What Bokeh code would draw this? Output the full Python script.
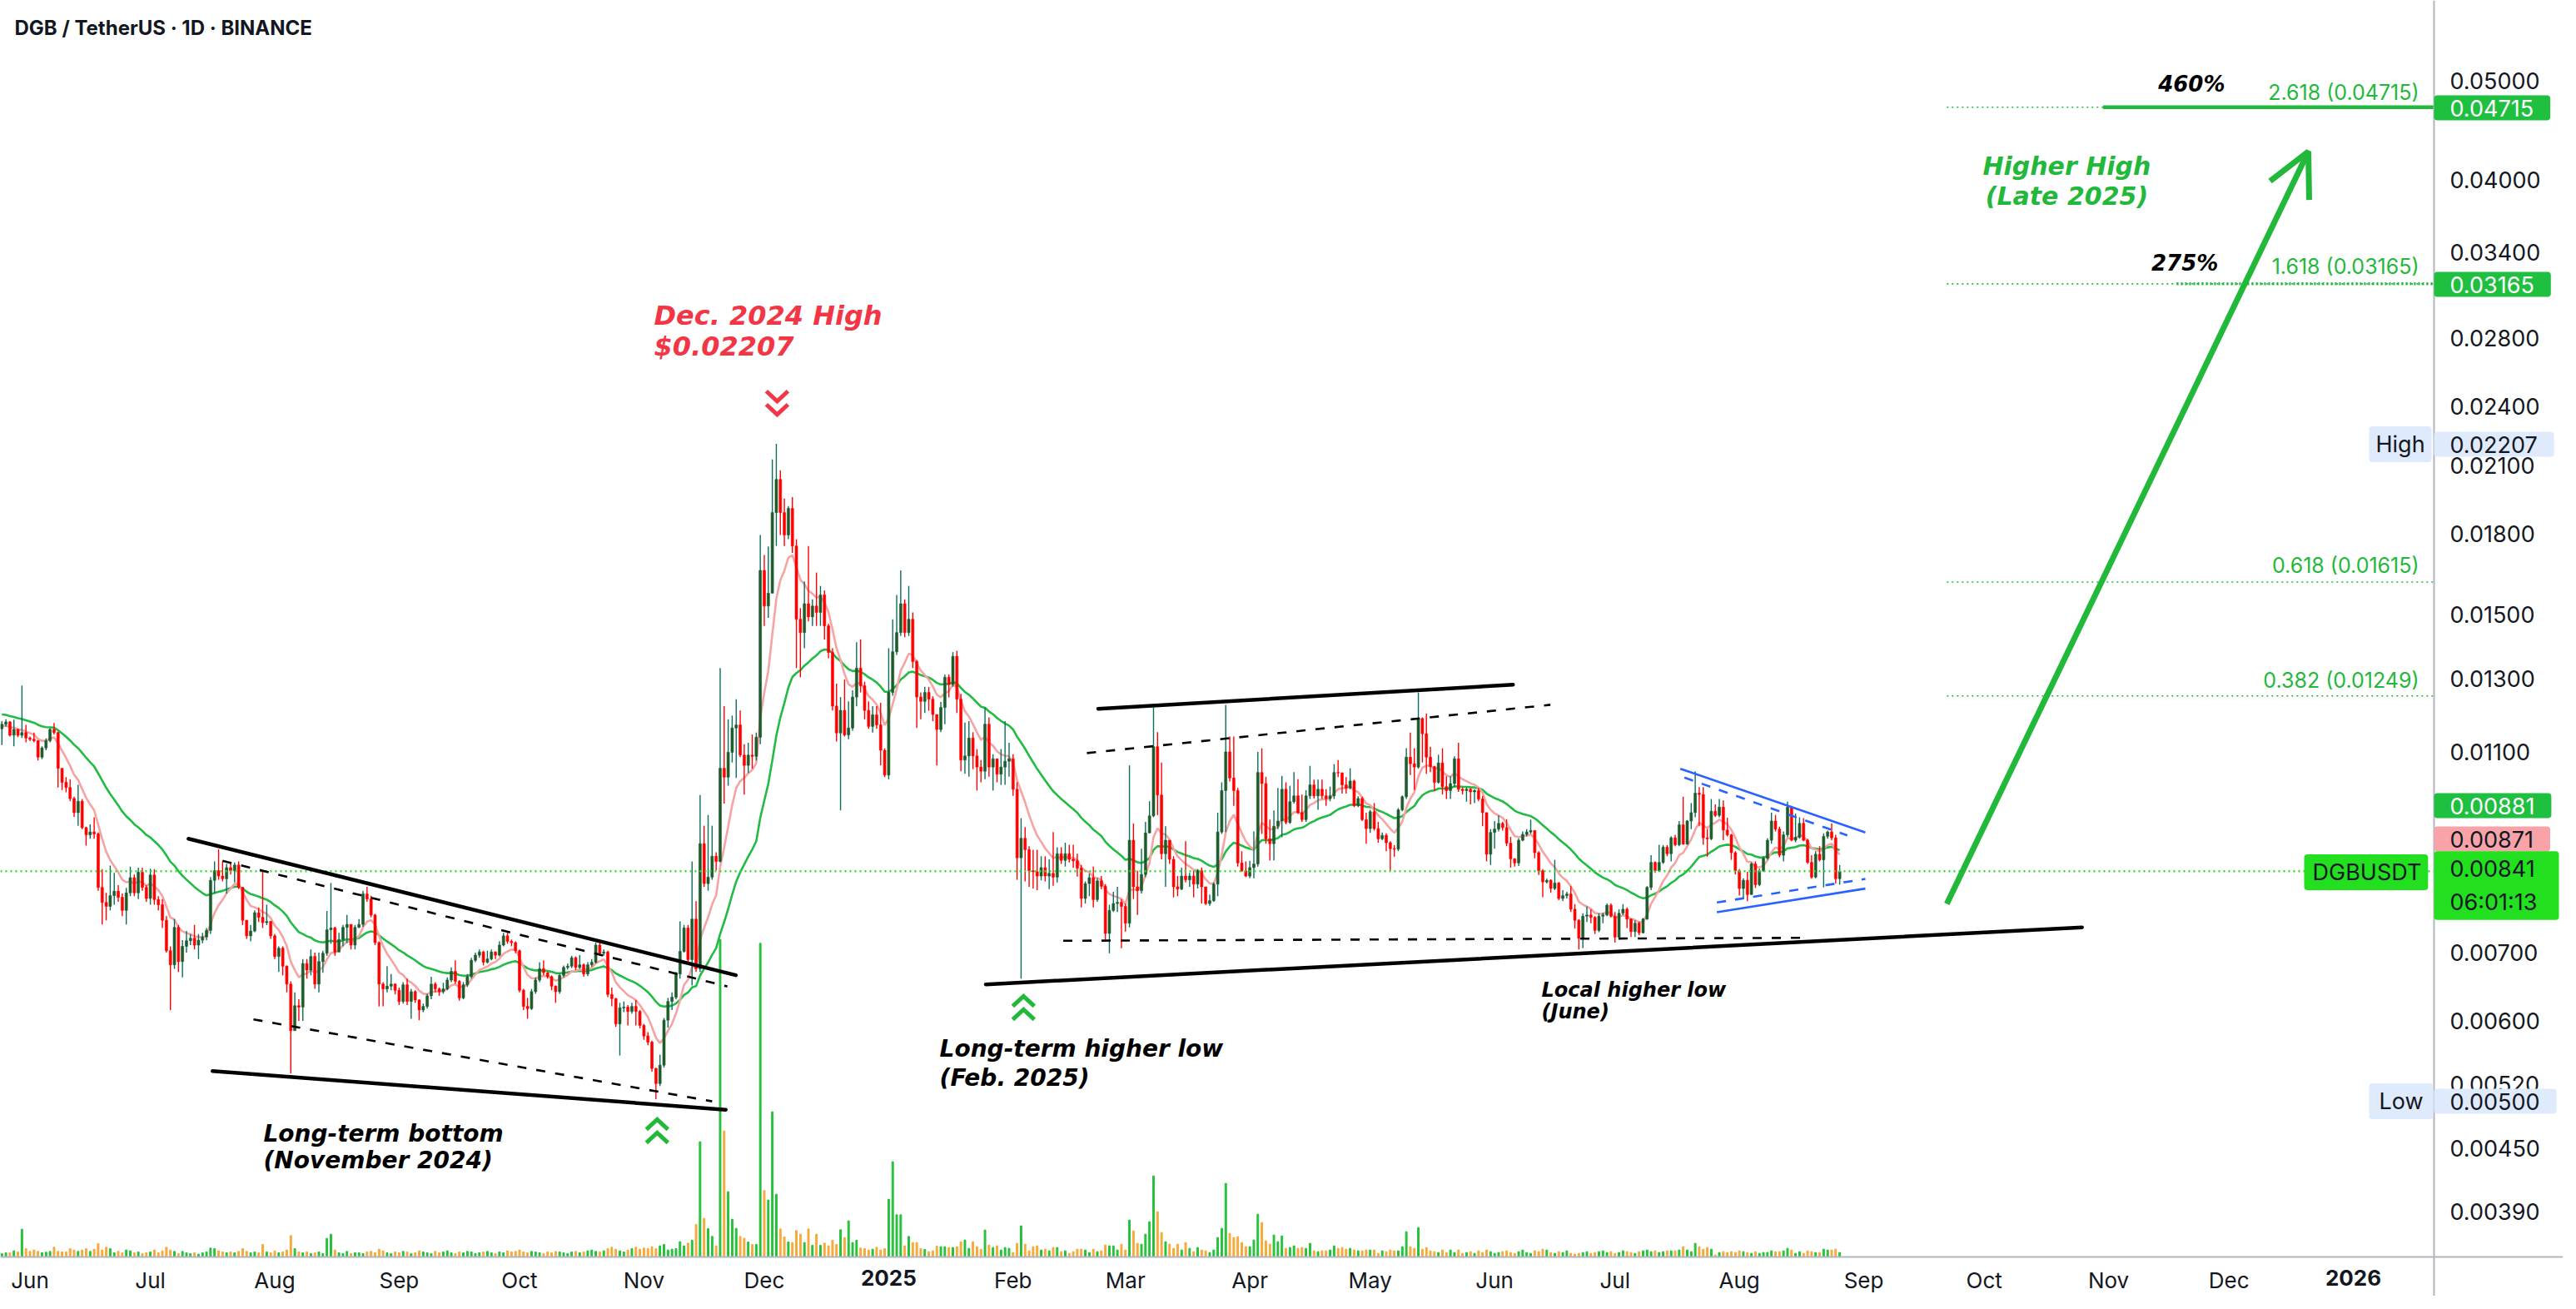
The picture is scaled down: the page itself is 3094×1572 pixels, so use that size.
import math
from datetime import date
from bokeh.plotting import figure
from bokeh.models import (Range1d, LinearScale, FixedTicker, PrintfTickFormatter,
                          Label, Arrow, OpenHead, Span)
from bokeh.embed import file_html
from bokeh.resources import INLINE

# ---------------------------------------------------------------- data
ORIGIN = date(2024, 6, 1)          # x axis = days since this date
FIRST_DATE = date(2024, 5, 25)     # first daily candle
UNIT = 1e-5                        # prices below are in 1e-5 USDT
first_open = 1160

close_e5 = [
 1172,1178,1143,1158,1143,1150,1136,1133,1129,1088,
 1111,1129,1158,1150,1061,1028,1016,991,960,985,
 928,913,919,915,811,784,777,796,804,793,
 770,801,829,801,839,811,791,834,789,780,
 753,703,681,741,686,710,719,723,712,720,
 725,736,824,842,832,827,848,842,853,811,
 753,727,735,766,758,749,751,727,694,707,
 679,652,587,621,619,683,673,694,652,686,
 699,737,740,701,721,741,746,712,741,746,
 799,790,762,716,652,645,649,652,643,627,
 651,627,641,629,615,620,635,652,645,641,
 645,658,671,656,632,651,663,688,696,701,
 685,690,701,696,712,727,718,716,703,643,
 620,617,641,658,675,669,663,649,641,665,
 677,679,692,677,681,667,681,685,712,699,
 701,637,631,596,618,619,613,620,613,594,
 580,572,539,521,543,601,627,633,667,702,
 740,689,755,675,895,818,830,870,860,1061,
 1040,1100,1162,1170,1093,1068,1093,1090,1138,1658,
 1530,1575,1889,2036,1889,1796,1907,1752,1485,1441,
 1538,1493,1530,1508,1569,1463,1378,1221,1149,1209,
 1144,1162,1246,1330,1278,1209,1166,1197,1170,1105,
 1045,1259,1380,1441,1538,1441,1485,1350,1246,1234,
 1259,1240,1198,1158,1217,1303,1282,1366,1240,1081,
 1091,1136,1091,1064,1054,1172,1064,1084,1047,1064,
 1078,1084,1012,867,906,883,842,840,832,848,
 832,837,830,875,862,875,864,861,847,791,
 818,829,789,823,813,731,770,782,784,777,
 748,902,812,805,835,917,953,1114,999,875,
 902,864,812,808,832,825,832,817,842,812,
 782,787,817,919,1009,1101,1038,1009,857,842,
 832,848,855,1051,1025,905,895,931,942,1012,
 939,984,997,960,945,997,1022,997,1012,997,
 991,997,1051,1050,1022,1015,1031,975,991,945,
 926,962,926,905,912,897,885,884,966,995,
 1088,1072,1064,1187,1147,1088,1065,1028,1074,1018,
 1009,1025,1084,1012,1009,1012,1006,1009,990,960,
 874,918,925,937,928,896,865,857,902,914,
 919,922,877,842,821,824,809,819,791,796,
 799,772,753,723,760,762,758,736,760,762,
 779,760,725,765,772,755,734,748,732,755,
 811,858,842,858,888,875,907,893,934,894,
 942,960,1003,1000,907,905,963,954,972,923,
 913,877,842,809,824,798,855,816,842,866,
 902,942,925,872,913,972,902,908,937,902,
 858,830,874,863,910,919,907,827,841]

high_e5 = [
 1180,1185,1180,1184,1160,1279,1170,1140,1150,1130,
 1115,1135,1162,1175,1152,1061,1040,1035,995,1022,
 990,930,935,950,918,845,801,852,838,815,
 800,810,850,835,848,848,815,846,845,795,
 790,760,710,755,745,720,735,730,745,730,
 732,740,830,860,884,860,855,858,858,860,
 812,750,745,770,775,842,780,752,730,710,
 710,680,656,640,630,690,690,705,700,700,
 703,769,819,742,732,745,762,746,745,755,
 805,812,796,764,718,655,679,667,653,647,
 655,660,645,643,630,624,638,663,655,647,
 654,662,677,688,658,655,667,692,700,705,
 703,703,705,702,718,732,732,721,718,705,
 645,632,645,662,685,688,670,665,650,668,
 680,683,695,694,696,683,685,690,716,716,
 705,703,647,632,625,627,622,625,629,615,
 596,585,574,540,556,604,632,640,670,751,
 745,745,860,786,999,932,955,932,878,1330,
 1221,1185,1195,1240,1209,1120,1124,1145,1150,1796,
 1717,1750,2130,2206,2078,1950,1917,1956,1779,1523,
 1617,1752,1553,1650,1601,1585,1470,1391,1284,1246,
 1296,1234,1265,1410,1419,1290,1234,1221,1221,1230,
 1110,1391,1485,1569,1658,1553,1601,1508,1355,1259,
 1275,1275,1248,1198,1232,1311,1311,1379,1383,1255,
 1176,1180,1151,1108,1081,1217,1190,1095,1084,1108,
 1180,1124,1095,1028,948,929,890,883,883,870,
 870,864,919,888,888,897,893,893,875,853,
 822,837,850,828,832,817,780,803,812,790,
 782,1068,937,842,885,940,985,1217,1151,1075,
 931,900,870,832,848,900,838,842,845,848,
 812,798,820,960,1028,1224,1140,1140,1015,880,
 860,861,920,1101,1110,1041,945,965,1015,1043,
 1028,1020,1052,1035,1000,1010,1067,1034,1034,1034,
 1012,1018,1071,1081,1051,1040,1061,1034,996,995,
 960,966,981,940,918,916,900,892,970,998,
 1110,1150,1110,1259,1190,1200,1114,1067,1094,1110,
 1042,1042,1090,1124,1016,1016,1015,1012,1015,997,
 960,925,942,954,940,946,909,866,906,920,
 925,945,922,880,845,827,826,863,821,806,
 803,813,781,755,765,777,772,760,765,766,
 782,782,767,772,781,775,756,753,751,757,
 813,872,860,893,892,892,910,913,942,995,
 944,981,1054,1017,1017,925,990,978,990,987,
 949,915,880,845,828,840,858,860,846,870,
 906,960,955,930,920,984,975,958,950,948,
 905,872,880,890,916,922,937,913,853]

low_e5 = [
 1118,1165,1140,1115,1138,1136,1125,1128,1125,1080,
 1083,1105,1125,1145,1016,1010,1005,985,951,932,
 925,891,905,905,805,746,753,770,780,785,
 760,746,795,795,790,805,785,780,780,770,
 740,700,615,675,670,662,700,712,705,690,
 715,720,730,800,825,822,800,835,820,808,
 745,722,718,733,750,740,745,722,690,670,
 665,640,533,590,600,600,660,665,645,640,
 669,695,714,695,712,710,715,705,705,740,
 742,785,758,712,620,620,640,643,637,622,
 624,622,603,625,601,612,617,630,640,635,
 638,643,655,652,628,630,648,660,685,692,
 680,683,688,690,694,710,714,710,699,640,
 615,603,615,638,655,665,660,643,625,638,
 662,674,676,673,675,663,664,678,683,695,
 695,633,620,592,555,612,594,610,594,590,
 575,568,535,503,518,540,591,615,630,660,
 700,683,650,670,670,812,805,825,843,858,
 980,1020,1075,1038,1088,1000,1050,1060,1080,1120,
 1463,1490,1580,1752,1796,1752,1779,1725,1330,1303,
 1391,1478,1463,1463,1463,1419,1360,1209,1127,965,
 1140,1133,1155,1220,1259,1185,1160,1150,1160,1068,
 1040,1035,1250,1370,1430,1426,1430,1330,1162,1185,
 1202,1208,1180,1068,1151,1172,1245,1275,1202,1054,
 1048,1041,1059,1009,1028,1035,1041,1009,1028,1022,
 1022,1041,997,825,660,822,812,809,806,824,
 822,808,814,820,855,850,858,848,831,775,
 782,795,775,785,808,721,699,767,767,707,
 734,741,790,762,800,830,917,950,955,864,
 812,855,793,795,806,820,812,793,809,782,
 779,778,785,795,915,919,1030,975,850,840,
 830,828,828,850,915,895,862,862,925,908,
 935,936,980,957,940,940,990,991,966,990,
 975,985,990,1040,1002,1002,1012,972,972,942,
 895,917,922,897,902,880,842,869,880,963,
 990,1045,1010,1060,1075,1048,1052,1009,1025,1000,
 990,990,1017,1006,1000,984,978,981,985,931,
 860,853,885,920,922,890,848,850,851,900,
 910,915,866,834,793,818,801,806,788,786,
 791,767,739,705,707,750,748,730,733,748,
 760,758,716,721,762,740,725,725,728,731,
 754,806,838,840,855,870,860,890,890,893,
 893,925,950,931,893,869,902,951,950,902,
 910,863,835,796,791,786,800,810,813,840,
 863,895,920,868,860,908,900,898,905,900,
 855,827,828,860,811,905,902,818,816]

volume = [
 12,15,15,22,18,100,30,20,25,20,
 15,17,20,35,20,18,18,30,25,20,
 25,30,20,28,48,25,35,30,15,20,
 15,25,22,15,18,12,15,18,25,15,
 22,35,25,20,12,20,15,12,15,10,
 15,18,32,30,22,18,15,18,15,20,
 30,20,15,18,15,45,18,15,22,15,
 18,25,77,30,18,15,18,12,15,18,
 12,67,82,25,15,12,20,12,15,15,
 12,18,20,15,28,22,15,12,18,15,
 20,18,12,15,22,18,15,12,20,15,
 18,22,15,12,18,15,20,18,12,15,
 18,20,15,12,18,15,22,18,20,25,
 18,15,20,18,15,12,18,15,20,18,
 15,12,18,20,15,18,22,25,20,18,
 22,30,35,28,22,18,25,30,35,28,
 32,30,37,30,40,45,25,28,30,55,
 40,50,60,117,415,139,102,74,40,1143,
 454,235,136,103,74,67,54,45,45,1130,
 239,205,523,226,101,72,54,52,95,82,
 52,101,42,82,42,50,40,60,45,98,
 70,130,52,60,32,30,25,28,35,25,
 30,208,343,152,152,40,74,52,52,30,
 27,19,22,39,37,37,34,34,37,55,
 61,31,55,37,28,97,43,34,40,25,
 34,31,16,49,112,46,22,37,40,25,
 28,22,34,34,19,22,13,19,28,28,
 25,16,28,19,22,43,40,40,25,46,
 25,133,94,49,46,82,127,292,163,88,
 55,46,31,46,25,52,31,19,34,25,
 22,16,25,70,103,265,85,70,73,52,
 37,37,61,154,124,58,46,79,55,76,
 31,34,40,31,34,31,49,22,19,22,
 22,25,40,31,34,28,31,25,22,22,
 25,25,25,13,22,19,25,22,22,37,
 91,37,31,106,28,34,22,19,16,25,
 16,25,16,25,13,16,19,13,22,16,
 25,19,13,16,19,22,16,13,19,25,
 16,13,22,19,28,25,16,13,19,16,
 22,13,10,13,16,19,13,16,19,22,
 16,19,13,16,22,19,16,13,19,22,
 25,19,22,16,19,22,22,22,25,37,
 25,19,49,37,28,34,28,7,16,19,
 16,19,16,22,19,16,13,19,13,16,
 16,22,19,19,22,31,25,13,19,13,
 22,19,16,16,28,25,25,28,16]

ema_fast_len, ema_slow_len = 9, 30
ema_fast_seed, ema_slow_seed = 1165, 1200
last_price = 0.00841

month_ticks = [(2024, 6, "Jun"), (2024, 7, "Jul"), (2024, 8, "Aug"), (2024, 9, "Sep"),
               (2024, 10, "Oct"), (2024, 11, "Nov"), (2024, 12, "Dec"), (2025, 1, "2025"),
               (2025, 2, "Feb"), (2025, 3, "Mar"), (2025, 4, "Apr"), (2025, 5, "May"),
               (2025, 6, "Jun"), (2025, 7, "Jul"), (2025, 8, "Aug"), (2025, 9, "Sep"),
               (2025, 10, "Oct"), (2025, 11, "Nov"), (2025, 12, "Dec"), (2026, 1, "2026")]
price_ticks = [0.05, 0.04, 0.034, 0.028, 0.024, 0.021, 0.018, 0.015, 0.013, 0.011,
               0.007, 0.006, 0.0052, 0.0045, 0.0039]

# drawings (x = days since ORIGIN, y = price)
trend_solid = [(39.5, 0.009051, 175.9, 0.006653), (45.5, 0.005358, 173.4, 0.004911),
               (238.2, 0.006516, 511.4, 0.007411), (266.2, 0.012135, 369.6, 0.012813)]
trend_dashed = [(48.0, 0.008611, 173.8, 0.006486), (55.7, 0.006021, 170.0, 0.005005),
                (263.4, 0.01098, 378.9, 0.012244), (257.5, 0.007190, 442.2, 0.007238)]
blue_solid = [(411.3, 0.010600, 457.4, 0.009181), (420.4, 0.007669, 457.4, 0.008088)]
blue_dashed = [(412.3, 0.010391, 452.9, 0.009119), (420.4, 0.007838, 457.4, 0.008267)]
arrow_line = (477.7, 0.007815, 567.8, 0.04266)
fib_start = 477.7
fib_levels = [("2.618", 0.04715), ("1.618", 0.03165), ("0.618", 0.01615), ("0.382", 0.01249)]
chevrons = [(186.2, 0.0242, "down", "#f23645"), (156.3, 0.004679, "up", "#22b83a"),
            (247.6, 0.00618, "up", "#22b83a")]

# ---------------------------------------------------------------- derived
n = len(close_e5)
x0 = (FIRST_DATE - ORIGIN).days
xs = [x0 + i for i in range(n)]
close = [c * UNIT for c in close_e5]
opens = [first_open * UNIT] + close[:-1]
high = [max(h * UNIT, o, c) for h, o, c in zip(high_e5, opens, close)]
low = [min(l * UNIT, o, c) for l, o, c in zip(low_e5, opens, close)]
up = [c >= o for o, c in zip(opens, close)]
vol = (volume + [0] * n)[:n]


def ema(vals, length, seed):
    a = 2.0 / (length + 1)
    e, out = seed, []
    for v in vals:
        e = a * v + (1 - a) * e
        out.append(e)
    return out


ema_fast = ema(close, ema_fast_len, ema_fast_seed * UNIT)
ema_slow = ema(close, ema_slow_len, ema_slow_seed * UNIT)

# ---------------------------------------------------------------- figure
# The plot frame covers the whole canvas; price-scale and time-scale labels are
# Bokeh's own axes pulled inwards (negative standoff) so tags can sit over them.
W, H = 3078, 1556
PANE_W, PANE_H = 2923, 1509          # price pane (left of / above the scales)
X_START, AXIS_DAY = -7.366, 599.12
Y_TOP, AXIS_PRICE = 0.05999, 0.003523
PX_DAY = PANE_W / (AXIS_DAY - X_START)
PX_LN = PANE_H / math.log(Y_TOP / AXIS_PRICE)
XR = (X_START, X_START + W / PX_DAY)
YR = (Y_TOP * math.exp(-H / PX_LN), Y_TOP)

p = figure(frame_width=W, frame_height=H, x_range=Range1d(*XR), y_range=Range1d(*YR),
           y_axis_type="log", y_axis_location="right",
           output_backend="svg", toolbar_location=None,
           min_border_left=0, min_border_right=0, min_border_top=0,
           min_border_bottom=0)
p.outline_line_color = None
p.grid.visible = False
p.background_fill_color = "white"
p.border_fill_color = "white"

TXT = "#131722"
AX = "#b2b5be"

yax = p.yaxis[0]
yax.ticker = FixedTicker(ticks=price_ticks)
yax.formatter = PrintfTickFormatter(format="%.5f")
yax.axis_line_color = None
yax.major_tick_line_color = None
yax.minor_tick_line_color = None
yax.major_tick_out = 0
yax.major_tick_in = 0
yax.major_label_standoff = 2942 - W
yax.major_label_text_font = "Inter"
yax.major_label_text_font_size = "27px"
yax.major_label_text_color = TXT

tick_days = [(date(y, m, 1) - ORIGIN).days for y, m, _ in month_ticks]
xax = p.xaxis[0]
xax.ticker = FixedTicker(ticks=tick_days)
xax.major_label_overrides = {d: ("" if lab.isdigit() else lab)
                             for d, (_, _, lab) in zip(tick_days, month_ticks)}
xax.axis_line_color = None
xax.major_tick_line_color = None
xax.minor_tick_line_color = None
xax.major_tick_out = 0
xax.major_tick_in = 0
xax.major_label_standoff = 1521 - H
xax.major_label_text_font = "Inter"
xax.major_label_text_font_size = "26px"
xax.major_label_text_color = TXT

# scale borders
p.add_layout(Span(location=AXIS_DAY, dimension="height", line_color=AX, line_width=2))
p.add_layout(Span(location=AXIS_PRICE, dimension="width", line_color=AX, line_width=2))

# volume (baseline on the time-scale line)
VOL_PER_PX = 3
vol_start = -(H - PANE_H) * VOL_PER_PX
p.extra_y_ranges = {"vol": Range1d(vol_start, vol_start + H * VOL_PER_PX)}
p.extra_y_scales = {"vol": LinearScale()}
p.vbar(x=xs, top=vol, bottom=0, width=0.4, y_range_name="vol",
       color=["#26c03c" if u else "#f5a93a" for u in up])

# moving averages
p.line(xs, ema_slow, line_color="#22bb44", line_width=2.6)
p.line(xs, ema_fast, line_color="#f6a3a3", line_width=2.6)

# candles
p.segment(x0=xs, y0=low, x1=xs, y1=high, line_width=1.4,
          line_color=["#0b6d5c" if u else "#ff0000" for u in up])
p.vbar(x=xs, top=[max(o, c) for o, c in zip(opens, close)],
       bottom=[min(o, c) for o, c in zip(opens, close)], width=0.62,
       fill_color=["#1e5b2b" if u else "#ff0000" for u in up],
       line_color=["#1e5b2b" if u else "#ff0000" for u in up], line_width=0.6)

# current price line
p.line([X_START, AXIS_DAY], [last_price, last_price], line_color="#2ee02e",
       line_dash="2 4", line_width=2.5)

# trend lines
for (a, b, c, d) in trend_solid:
    p.line([a, c], [b, d], line_color="black", line_width=4.5, line_cap="round")
for (a, b, c, d) in trend_dashed:
    p.line([a, c], [b, d], line_color="black", line_width=2.6, line_dash="11 12")
for (a, b, c, d) in blue_solid:
    p.line([a, c], [b, d], line_color="#2962ff", line_width=2.6)
for (a, b, c, d) in blue_dashed:
    p.line([a, c], [b, d], line_color="#2962ff", line_width=2.6, line_dash="11 11")

# fib levels
GREEN = "#22b83a"
for lab, lv in fib_levels:
    p.line([fib_start, AXIS_DAY], [lv, lv], line_color=GREEN, line_width=1.6, line_dash="2 4")
p.line([516.6, AXIS_DAY], [0.04715, 0.04715], line_color=GREEN, line_width=4.5)
p.line([535.0, AXIS_DAY], [0.03165, 0.03165], line_color=GREEN, line_width=3.5, line_dash="2 3")

# big arrow
p.add_layout(Arrow(end=OpenHead(size=52, line_color=GREEN, line_width=7),
                   x_start=arrow_line[0], y_start=arrow_line[1],
                   x_end=arrow_line[2], y_end=arrow_line[3],
                   line_color=GREEN, line_width=7))

# chevrons
for (xc, pc, direction, col) in chevrons:
    sgn = 1 if direction == "up" else -1
    for off in (-8, 8):
        yc = off * sgn
        pts_px = [(-13, yc - 6 * sgn), (0, yc + 6 * sgn), (13, yc - 6 * sgn)]
        p.line([xc + dx / PX_DAY for dx, _ in pts_px],
               [pc * math.exp(dy / PX_LN) for _, dy in pts_px],
               line_color=col, line_width=5, line_join="miter")

# text annotations
ANN = "DejaVu Sans"
TEXT_DROP = math.exp(-4 / PX_LN)     # text centre sits a few px below anchor


def note(x, y, text, size, color="black", align="left", style="bold italic",
         font=ANN):
    p.add_layout(Label(x=x, y=y * TEXT_DROP, text=text, text_font=font,
                       text_font_size=size, text_font_style=style, text_color=color,
                       text_align=align, text_baseline="middle"))


note(155.5, 0.02966, "Dec. 2024 High", "32px", "#f23645")
note(155.5, 0.02767, "$0.02207", "32px", "#f23645")
note(58.2, 0.004688, "Long-term bottom", "28px")
note(58.2, 0.004414, "(November 2024)", "28px")
note(226.7, 0.005676, "Long-term higher low", "28px")
note(226.7, 0.005317, "(Feb. 2025)", "28px")
note(376.7, 0.006486, "Local higher low", "24px")
note(376.7, 0.006167, "(June)", "24px")
note(507.6, 0.04159, "Higher High", "30px", GREEN, "center")
note(507.6, 0.03887, "(Late 2025)", "30px", GREEN, "center")
note(538.7, 0.0500, "460%", "26px", "black", "center")
note(537.0, 0.03339, "275%", "26px", "black", "center")
fib_label_y = [0.04907, 0.03314, 0.01688, 0.01303]
for (lab, lv), ly in zip(fib_levels, fib_label_y):
    note(595.4, ly, f"{lab} ({lv:.5f})", "25px", GREEN, "right", "normal", "Inter")


# screen-positioned labels (reference pixel coords; frame = whole canvas)
def sy(ry):
    return H - ry


p.add_layout(Label(x=17, y=sy(33), x_units="screen", y_units="screen",
                   text="DGB / TetherUS · 1D · BINANCE", text_font="Inter",
                   text_font_size="24px", text_font_style="bold", text_color=TXT,
                   text_baseline="alphabetic"))

for (y_, m_, lab), d in zip(month_ticks, tick_days):
    if lab.isdigit():
        p.add_layout(Label(x=d, y=sy(1534), y_units="screen", text=lab,
                           text_font="Inter", text_font_size="26px",
                           text_font_style="bold", text_color=TXT,
                           text_align="center", text_baseline="middle"))


def badge(text, ry, bg, fg, rx=2923, pad_l=19, pad_r=20, pad_v=5):
    p.add_layout(Label(x=rx, y=sy(ry), x_units="screen", y_units="screen",
                       text=text, text_font="Inter", text_font_size="27px",
                       text_color=fg, background_fill_color=bg, text_align="left",
                       text_baseline="middle", border_radius=4,
                       padding=dict(left=pad_l, right=pad_r, top=pad_v, bottom=pad_v)))


LB = "#dfeafc"
badge("0.04715", 129, "#1fc03f", "white")
badge("0.03165", 341, "#1fc03f", "white")
badge("0.02207", 533, LB, TXT)
badge("0.00881", 967, "#1fbf3f", "white")
badge("0.00871", 1007, "#f7a3a8", TXT)
badge("0.00841\n06:01:13", 1063, "#22e01f", TXT, pad_r=26)
badge("0.00500", 1322, LB, TXT)
badge("High", 533, LB, TXT, rx=2845, pad_l=8, pad_r=8)
badge("Low", 1322, LB, TXT, rx=2845, pad_l=12, pad_r=12)
badge("DGBUSDT", 1047, "#22e01f", TXT, rx=2767, pad_l=10, pad_r=8)

open("out.html", "w").write(file_html(p, INLINE))
